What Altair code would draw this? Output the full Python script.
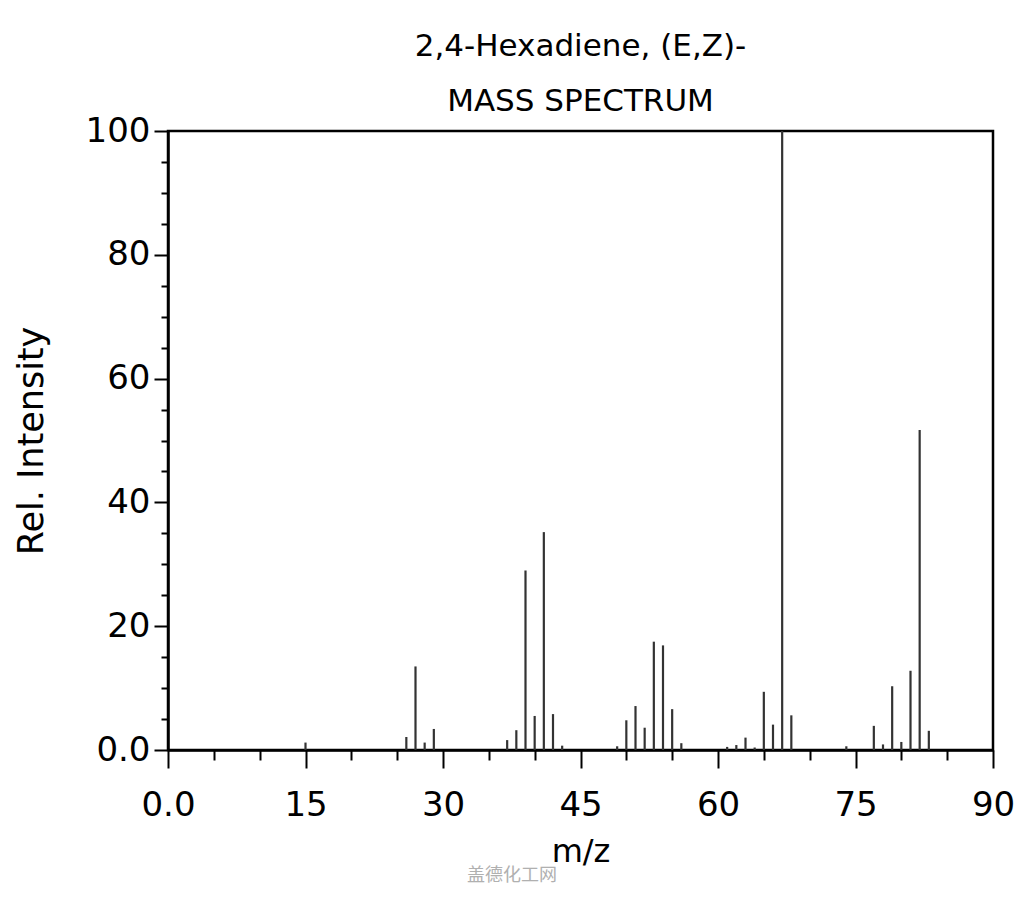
import altair as alt
import pandas as pd

mz = [15, 26, 27, 28, 29, 37, 38, 39, 40, 41, 42, 43, 49, 50, 51, 52, 53, 54, 55, 56,
      61, 62, 63, 64, 65, 66, 67, 68, 74, 77, 78, 79, 80, 81, 82, 83]
intensity = [1.2, 2.1, 13.5, 1.2, 3.4, 1.6, 3.2, 29.0, 5.5, 35.2, 5.8, 0.7, 0.6, 4.8, 7.1, 3.6, 17.5, 16.9, 6.6, 1.1,
             0.5, 0.8, 2.0, 0.4, 9.4, 4.1, 100.0, 5.6, 0.6, 3.9, 0.9, 10.3, 1.3, 12.8, 51.7, 3.1]
x_ticks = list(range(0, 91, 5))
y_ticks = list(range(0, 101, 5))
title_lines = ["2,4-Hexadiene, (E,Z)-", "MASS SPECTRUM"]
watermark = "盖德化工网"

df = pd.DataFrame({"mz": mz, "intensity": intensity, "base": [0] * len(mz)})

FONT = "DejaVu Sans"

x_axis = alt.Axis(
    values=x_ticks,
    labelExpr="datum.value % 15 === 0 ? (datum.value === 0 ? '0.0' : datum.label) : ''",
    tickSize={"condition": {"test": "datum.value % 15 === 0", "value": 18}, "value": 10},
    tickWidth=2, tickColor="black",
    domainColor="black", domainWidth=2.5,
    labelFont=FONT, labelFontSize=34, labelColor="black", labelPadding=20,
    labelFlush=False, labelOverlap=False,
    title="m/z", titleFont=FONT, titleFontSize=32, titleFontWeight="normal",
    titleColor="black", titlePadding=14,
    grid=False,
)
y_axis = alt.Axis(
    values=y_ticks,
    labelExpr="datum.value % 20 === 0 ? (datum.value === 0 ? '0.0' : datum.label) : ''",
    tickSize={"condition": {"test": "datum.value % 20 === 0", "value": 14}, "value": 7},
    tickWidth=2, tickColor="black",
    domainColor="black", domainWidth=2.5,
    labelFont=FONT, labelFontSize=34, labelColor="black", labelPadding=4,
    labelFlush=False, labelOverlap=False,
    title="Rel. Intensity", titleFont=FONT, titleFontSize=35, titleFontWeight="normal",
    titleColor="black", titlePadding=36,
    grid=False,
)

bars = alt.Chart(df).mark_rule(color="#333333", strokeWidth=2.2).encode(
    x=alt.X("mz:Q", scale=alt.Scale(domain=[0, 90], nice=False, zero=False), axis=x_axis),
    y=alt.Y("base:Q", scale=alt.Scale(domain=[0, 100], nice=False), axis=y_axis),
    y2="intensity:Q",
)

wm = alt.Chart(pd.DataFrame({"t": [watermark]})).mark_text(
    font="Noto Sans CJK SC", fontSize=18, color="#b0b0b0", baseline="middle", align="center"
).encode(text="t:N", x=alt.value(344), y=alt.value(745))

chart = alt.layer(bars, wm).properties(
    width=825, height=619,
    title=alt.TitleParams(text=title_lines, font=FONT, fontSize=31, fontWeight="normal",
                          color="black", anchor="middle", lineHeight=55, offset=-4),
    autosize=alt.AutoSizeParams(type="none"),
    padding={"left": 160, "top": 123, "right": 23, "bottom": 140},
).configure(background="white").configure_view(stroke="black", strokeWidth=2.5)

chart.save("out.html", embed_options={"renderer": "svg", "actions": False})
